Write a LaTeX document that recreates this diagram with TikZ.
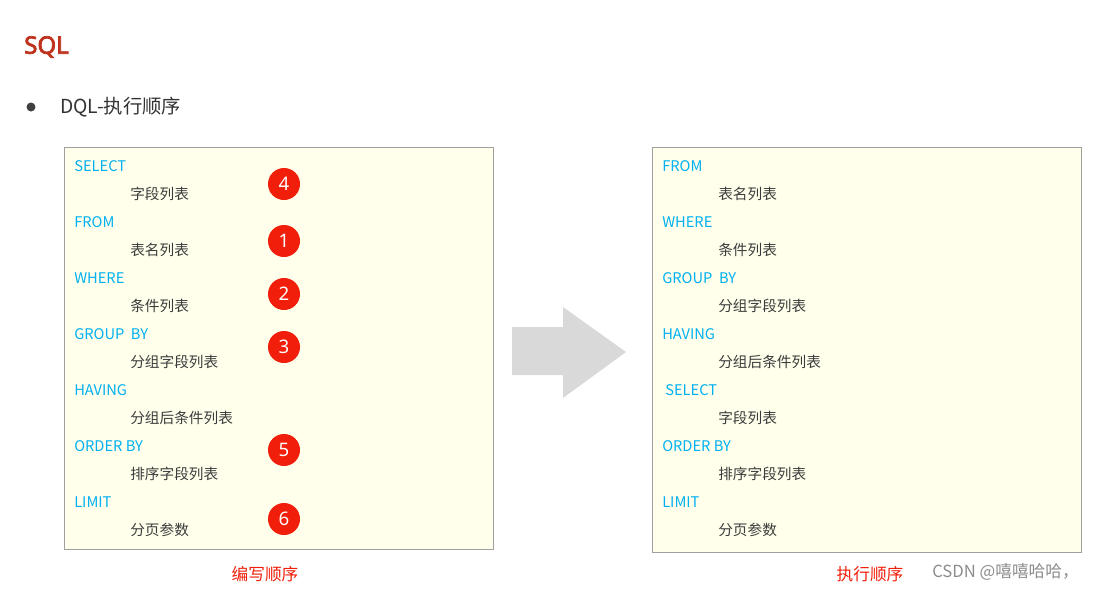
\documentclass[tikz,border=0pt]{standalone}
\usepackage{fontspec}
\setmainfont{Noto Sans CJK SC}
\newfontfamily\latinsans{Noto Sans}
\newfontfamily\boldsans[FakeBold=3]{Noto Sans}
\definecolor{kw}{RGB}{0,176,240}
\definecolor{sub}{RGB}{60,60,60}
\definecolor{boxfill}{RGB}{255,255,236}
\definecolor{boxline}{RGB}{160,160,160}
\definecolor{badge}{RGB}{240,30,10}
\definecolor{titlered}{RGB}{190,50,30}
\definecolor{arrowgray}{RGB}{217,217,217}
\tikzset{
  kwtext/.style={anchor=west,text=kw,font=\fontsize{11}{12}\selectfont,inner sep=0},
  subtext/.style={anchor=west,text=sub,font=\fontsize{11}{12}\selectfont,inner sep=0},
  sqlbox/.style={draw=boxline,fill=boxfill,line width=0.6pt},
  numbadge/.style={circle,fill=badge,text=white,minimum size=24pt,inner sep=0,font=\latinsans\fontsize{14}{16}\selectfont},
  caption/.style={text=badge,font=\fontsize{12.5}{14}\selectfont}
}
\begin{document}
\begin{tikzpicture}[x=0.75pt,y=-0.75pt]
\useasboundingbox (0,0) rectangle (1110,590);
\node[anchor=west,text=titlered,font=\boldsans\fontsize{18}{20}\selectfont,inner sep=0] (title) at (24,47) {SQL};
\fill[black!75] (31,107) circle (4.5) coordinate (bul);
\node[anchor=west,text=black!80,font=\fontsize{14.5}{16}\selectfont,inner sep=0] (head) at (60,107) {DQL-执行顺序};
\draw[sqlbox] (64,147) rectangle (493,549);
\draw[sqlbox] (652,147) rectangle (1081,552);
% left
\node[kwtext] (l1) at (74,166) {SELECT};
\node[subtext] (l1s) at (130,194) {字段列表};
\node[kwtext] (l2) at (74,222) {FROM};
\node[subtext] (l2s) at (130,250) {表名列表};
\node[kwtext] (l3) at (74,278) {WHERE};
\node[subtext] (l3s) at (130,306) {条件列表};
\node[kwtext] (l4) at (74,334) {GROUP~~BY};
\node[subtext] (l4s) at (130,362) {分组字段列表};
\node[kwtext] (l5) at (74,390) {HAVING};
\node[subtext] (l5s) at (130,418) {分组后条件列表};
\node[kwtext] (l6) at (74,446) {ORDER BY};
\node[subtext] (l6s) at (130,474) {排序字段列表};
\node[kwtext] (l7) at (74,502) {LIMIT};
\node[subtext] (l7s) at (130,530) {分页参数};
\node[numbadge] (b4) at (284,184) {4};
\node[numbadge] (b1) at (284,241) {1};
\node[numbadge] (b2) at (284,294) {2};
\node[numbadge] (b3) at (284,347) {3};
\node[numbadge] (b5) at (284,450) {5};
\node[numbadge] (b6) at (284,519) {6};
% right
\node[kwtext] (r1) at (662,166) {FROM};
\node[subtext] (r1s) at (718,194) {表名列表};
\node[kwtext] (r2) at (662,222) {WHERE};
\node[subtext] (r2s) at (718,250) {条件列表};
\node[kwtext] (r3) at (662,278) {GROUP~~BY};
\node[subtext] (r3s) at (718,306) {分组字段列表};
\node[kwtext] (r4) at (662,334) {HAVING};
\node[subtext] (r4s) at (718,362) {分组后条件列表};
\node[kwtext] (r5) at (665,390) {SELECT};
\node[subtext] (r5s) at (718,418) {字段列表};
\node[kwtext] (r6) at (662,446) {ORDER BY};
\node[subtext] (r6s) at (718,474) {排序字段列表};
\node[kwtext] (r7) at (662,502) {LIMIT};
\node[subtext] (r7s) at (718,530) {分页参数};
% arrow
\fill[arrowgray] (512,327) -- (563,327) -- (563,307) -- (626,352) -- (563,398) -- (563,375) -- (512,375) -- cycle;
% captions
\node[caption] (c1) at (265,574) {编写顺序};
\node[caption] (c2) at (870,574) {执行顺序};
\node[anchor=west,text=black!45,font=\fontsize{12.5}{14}\selectfont,inner sep=0] (csdn) at (932,572) {CSDN @嘻嘻哈哈，};
\end{tikzpicture}
\end{document}
